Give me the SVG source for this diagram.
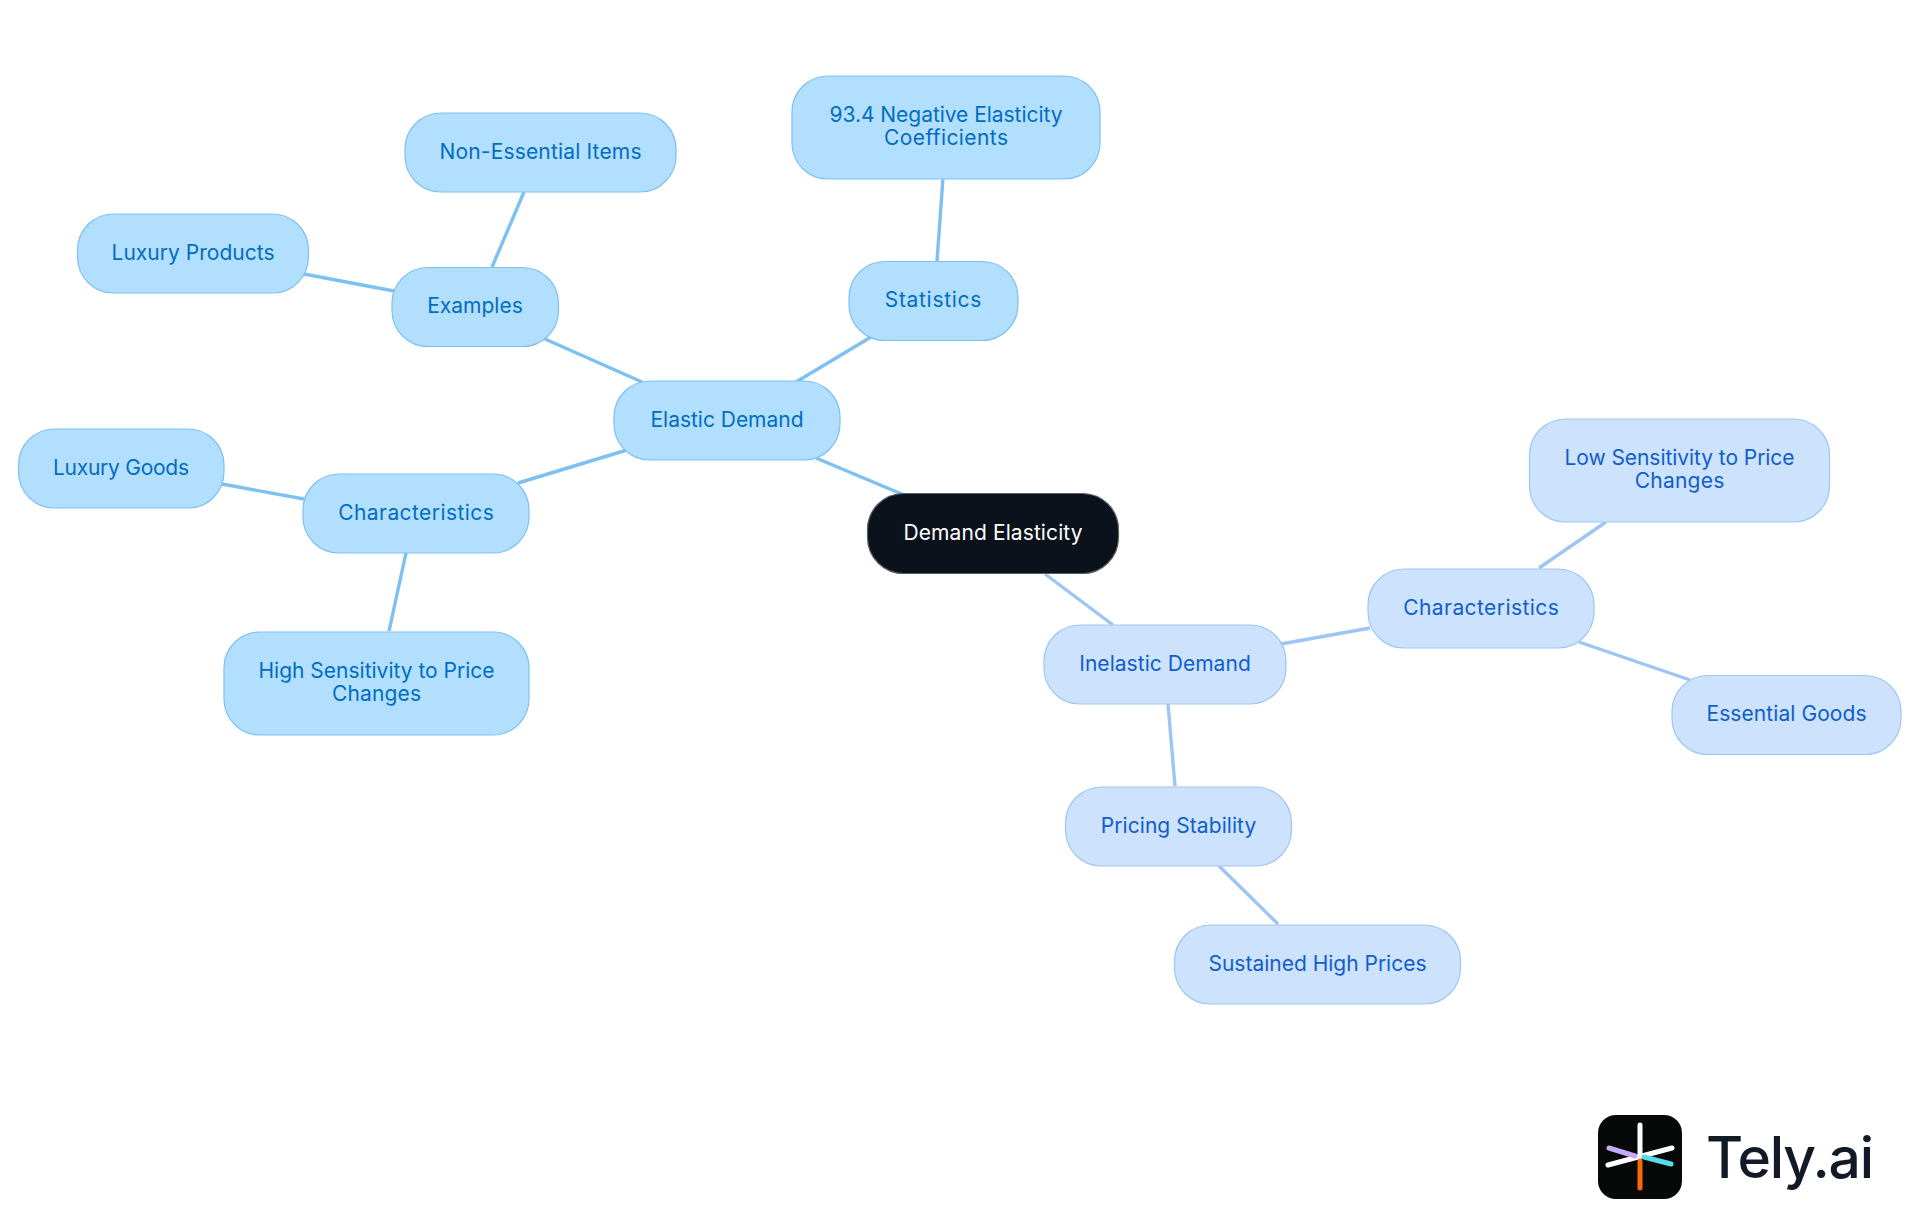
<svg xmlns="http://www.w3.org/2000/svg" width="1920" height="1215" viewBox="0 0 1920 1215">
<style>
text{font-family:"Inter","Noto Sans","Liberation Sans",sans-serif;font-size:21px;font-weight:380;text-anchor:middle}
.a rect{fill:#b3dfff;stroke:#7dc1f3;stroke-width:1.2}
.a text{fill:#006dc2}
.b rect{fill:#cde2fd;stroke:#9ec5f4;stroke-width:1.2}
.b text{fill:#105dcc}
.r rect{fill:#0b121b;stroke:#5c6166;stroke-width:1.2}
.r text{fill:#fff}
#connectors line{stroke-width:3.4;fill:none}
.ca{stroke:#7dc1f3}.cb{stroke:#9ec5f4}
</style>
<rect width="1920" height="1215" fill="#fff"/>
<g id="connectors">
<line class="ca" x1="816" y1="458" x2="904" y2="495"/>
<line class="ca" x1="796" y1="382" x2="871" y2="337"/>
<line class="ca" x1="642" y1="382" x2="545" y2="339"/>
<line class="ca" x1="627" y1="450" x2="518" y2="483"/>
<line class="ca" x1="937" y1="261" x2="943" y2="178"/>
<line class="ca" x1="492" y1="267" x2="524" y2="192"/>
<line class="ca" x1="394" y1="291" x2="304" y2="274"/>
<line class="ca" x1="304" y1="499" x2="222" y2="484"/>
<line class="ca" x1="406" y1="553" x2="389" y2="631"/>
<line class="cb" x1="1045" y1="574" x2="1113" y2="625"/>
<line class="cb" x1="1281" y1="644" x2="1370" y2="628"/>
<line class="cb" x1="1168" y1="704" x2="1175" y2="786"/>
<line class="cb" x1="1539" y1="568" x2="1606" y2="522"/>
<line class="cb" x1="1579" y1="642" x2="1690" y2="680"/>
<line class="cb" x1="1219" y1="866" x2="1278" y2="924"/>
</g>
<g id="n-root" class="r"><rect x="867.500" y="493.500" width="251" height="80" rx="36"/><text x="993" y="540" textLength="179">Demand Elasticity</text></g>
<g id="n-elastic" class="a"><rect x="614" y="381" width="226" height="79" rx="36"/><text x="727" y="427" textLength="153">Elastic Demand</text></g>
<g id="n-examples" class="a"><rect x="392" y="267.500" width="166.500" height="79" rx="36"/><text x="475" y="313" textLength="95.500">Examples</text></g>
<g id="n-statistics" class="a"><rect x="849" y="261.500" width="169" height="79" rx="36"/><text x="933" y="307" textLength="96.500">Statistics</text></g>
<g id="n-charl" class="a"><rect x="303" y="474" width="226" height="79" rx="36"/><text x="416" y="520" textLength="155.500">Characteristics</text></g>
<g id="n-nonessential" class="a"><rect x="405" y="113" width="271" height="79" rx="36"/><text x="540.500" y="159" textLength="202">Non-Essential Items</text></g>
<g id="n-luxproducts" class="a"><rect x="77.500" y="214" width="231" height="79" rx="36"/><text x="193" y="260" textLength="163">Luxury Products</text></g>
<g id="n-stat934" class="a"><rect x="792" y="76" width="308" height="103" rx="36"/><text x="946" y="122" textLength="233">93.4 Negative Elasticity</text><text x="946" y="145" textLength="124">Coefficients</text></g>
<g id="n-luxgoods" class="a"><rect x="18.500" y="429" width="205.500" height="79" rx="36"/><text x="121" y="475" textLength="136">Luxury Goods</text></g>
<g id="n-high" class="a"><rect x="224" y="632" width="305" height="103" rx="36"/><text x="376.500" y="678" textLength="236">High Sensitivity to Price</text><text x="376.500" y="701" textLength="89">Changes</text></g>
<g id="n-inelastic" class="b"><rect x="1044" y="625" width="242" height="79" rx="36"/><text x="1165" y="671" textLength="171.500">Inelastic Demand</text></g>
<g id="n-charr" class="b"><rect x="1368" y="569" width="226" height="79" rx="36"/><text x="1481" y="615" textLength="155.500">Characteristics</text></g>
<g id="n-pricing" class="b"><rect x="1065.500" y="787" width="226" height="79" rx="36"/><text x="1178.500" y="833" textLength="155.500">Pricing Stability</text></g>
<g id="n-low" class="b"><rect x="1529.500" y="419" width="300" height="103" rx="36"/><text x="1679.500" y="465" textLength="230">Low Sensitivity to Price</text><text x="1679.500" y="488" textLength="89.500">Changes</text></g>
<g id="n-essential" class="b"><rect x="1672" y="675.500" width="229" height="79" rx="36"/><text x="1786.500" y="721" textLength="160">Essential Goods</text></g>
<g id="n-sustained" class="b"><rect x="1174.500" y="925" width="286" height="79" rx="36"/><text x="1317.500" y="971" textLength="218">Sustained High Prices</text></g>
<g id="logo">
<rect x="1598" y="1115" width="84" height="84" rx="18" fill="#070808"/>
<g stroke-width="5" stroke-linecap="round" fill="none">
<line x1="1608" y1="1165" x2="1672" y2="1148" stroke="#fff"/>
<line x1="1640" y1="1125" x2="1640" y2="1155" stroke="#fff"/>
<line x1="1609" y1="1148" x2="1635" y2="1156" stroke="#c4a9f5"/>
<line x1="1644" y1="1157" x2="1671" y2="1164" stroke="#58dcea"/>
<line x1="1640" y1="1161" x2="1640" y2="1188" stroke="#f76a05"/>
</g>
<text x="1706" y="1178" textLength="168" style="font-size:57px;fill:#111a26;text-anchor:start;font-weight:500">Tely.ai</text>
</g>
</svg>
